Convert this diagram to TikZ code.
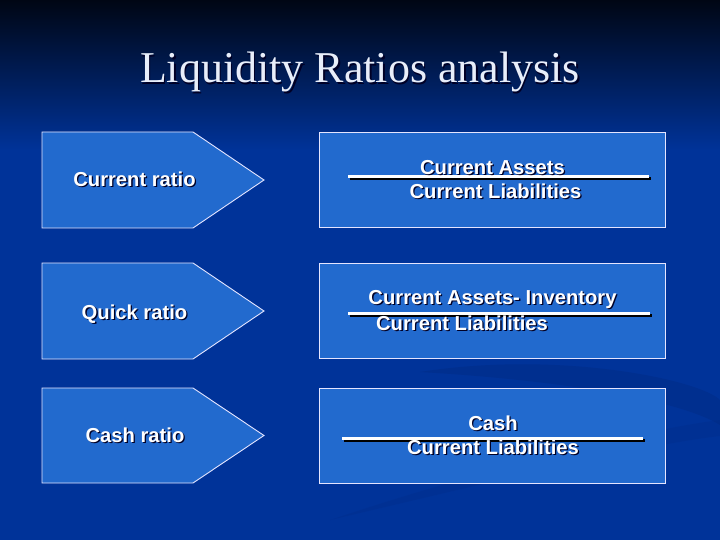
\documentclass[tikz,border=0pt]{standalone}
\usepackage{fontspec}
\setmainfont{Liberation Serif}
\setsansfont{Liberation Sans}
\usetikzlibrary{calc}
\definecolor{bgblue}{RGB}{0,51,153}
\definecolor{bgtop}{RGB}{0,6,20}
\definecolor{boxblue}{RGB}{34,106,206}
\definecolor{titlecol}{RGB}{232,238,250}
\definecolor{swoosh}{RGB}{0,40,125}
\newcommand{\shtext}[1]{\makebox[0pt][l]{\raisebox{-1.3pt}{\hspace{1.3pt}\textcolor{black!85!blue}{#1}}}#1}
\tikzset{
  panel/.style={fill=boxblue, draw=white!90!blue, line width=0.9pt},
  lbl/.style={text=white, font=\sffamily\bfseries\fontsize{20.2}{23}\selectfont, inner sep=0pt, anchor=center},
  fracbar/.style={white, line width=3pt},
  fracshadow/.style={black, line width=3pt},
}
\begin{document}
\begin{tikzpicture}[x=1pt,y=-1pt]
\useasboundingbox (0,0) rectangle (720,540);
% background
\fill[bgblue] (0,0) rectangle (720,540);
\shade[top color=bgtop, bottom color=bgblue] (0,0) rectangle (720,150);
% subtle swoosh
\fill[swoosh, opacity=0.35] (420,372) .. controls (560,350) and (700,380) .. (720,400)
  -- (720,425) .. controls (680,400) and (560,380) .. (420,372) -- cycle;
\fill[swoosh, opacity=0.2] (330,520) .. controls (480,470) and (640,430) .. (720,420)
  -- (720,436) .. controls (640,445) and (480,485) .. (330,520) -- cycle;
% title
\node[text=titlecol, font=\fontsize{44}{50}\selectfont, inner sep=0pt, anchor=base] (title) at (360,83) {\shtext{Liquidity Ratios analysis}};
% pentagons
\foreach \t/\m/\b/\n in {132/180/228/p1, 263/311/359/p2, 388/435.5/483/p3}{
  \draw[panel] (42,\t) -- (193,\t) -- (264,\m) -- (193,\b) -- (42,\b) -- cycle;
}
\node[lbl] (l1) at (134.5,180) {\shtext{Current ratio}};
\node[lbl] (l2) at (134.5,315) {\shtext{Quick ratio}};
\node[lbl] (l3) at (135,435.5) {\shtext{Cash ratio}};
% right boxes
\draw[panel] (319,132) rectangle (665,227);
\draw[panel] (319,263) rectangle (665,358);
\draw[panel] (319,388) rectangle (665,483);
% box 1
\coordinate (a1) at (348,177); \coordinate (b1) at (649,177);
\draw[fracshadow] ($(a1)+(2,2)$) -- ($(b1)+(2,2)$);
\draw[fracbar] (a1) -- (b1);
\node[lbl] (n1) at (492.5,168) {\shtext{Current Assets}};
\node[lbl] (d1) at (495.5,192) {\shtext{Current Liabilities}};
% box 2
\coordinate (a2) at (348,313); \coordinate (b2) at (650,313);
\draw[fracshadow] ($(a2)+(2,2)$) -- ($(b2)+(2,2)$);
\draw[fracbar] (a2) -- (b2);
\node[lbl] (n2) at (492.5,300) {\shtext{Current Assets- Inventory}};
\node[lbl] (d2) at (462,323.5) {\shtext{Current Liabilities}};
% box 3
\coordinate (a3) at (342,438); \coordinate (b3) at (643,438);
\draw[fracshadow] ($(a3)+(2,2)$) -- ($(b3)+(2,2)$);
\draw[fracbar] (a3) -- (b3);
\node[lbl] (n3) at (493,424) {\shtext{Cash}};
\node[lbl] (d3) at (493,448) {\shtext{Current Liabilities}};
\end{tikzpicture}
\end{document}
